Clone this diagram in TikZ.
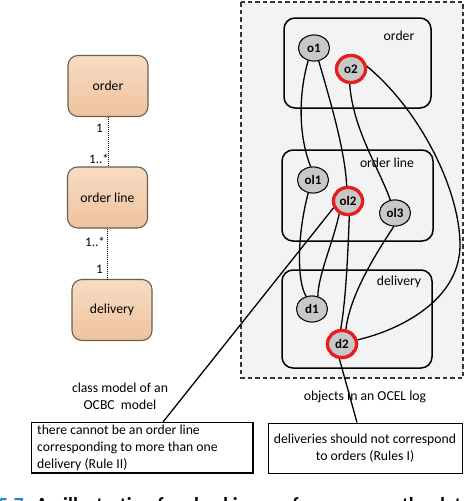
\documentclass[tikz,border=0pt]{standalone}
\usepackage{fontspec}
\setmainfont{Carlito}
\usetikzlibrary{calc,shapes.geometric}
\definecolor{peachtop}{HTML}{F8DCC3}
\definecolor{peachbot}{HTML}{EEC29E}
\definecolor{peachline}{HTML}{6E5E52}
\definecolor{objgray}{HTML}{C8C8C8}
\definecolor{bggray}{HTML}{F3F3F3}
\definecolor{ringred}{HTML}{E81E1E}
\definecolor{capblue}{HTML}{1E88C8}
\tikzset{
  classbox/.style={draw=peachline, line width=1.1pt, rounded corners=10pt, top color=peachtop, bottom color=peachbot, minimum width=80pt, minimum height=61pt, font=\fontsize{13.7}{16}\selectfont},
  regionbox/.style={draw=black, line width=1.5pt, rounded corners=11pt, fill=bggray},
  obj/.style={ellipse, draw=black, line width=0.9pt, fill=objgray, minimum width=31pt, minimum height=26pt, inner sep=0pt, font=\bfseries\fontsize{13}{15}\selectfont},
  redobj/.style={obj, draw=ringred, line width=3.2pt, minimum width=29pt, minimum height=27pt},
  link/.style={line width=1.3pt, draw=black},
  mult/.style={font=\fontsize{13}{15}\selectfont, inner sep=1pt},
  lbl/.style={font=\fontsize{13.7}{17}\selectfont, inner sep=0pt},
  notebox/.style={draw=black, line width=1pt, fill=white, font=\fontsize{13.7}{17}\selectfont}
}
\begin{document}
\begin{tikzpicture}[x=1pt,y=-1pt]
\clip (0,0) rectangle (474,501);
\useasboundingbox (0,0) rectangle (474,501);
\fill[white] (0,0) rectangle (474,501);

% class model
\node[classbox] (c1) at (108,86) {order};
\node[classbox] (c2) at (107.5,197.5) {order line};
\node[classbox] (c3) at (112,310) {delivery};
\draw[densely dotted, line width=1pt] (c1.south -| 108,0) coordinate (a1) -- (c2.north -| 108,0) coordinate (a2);
\draw[densely dotted, line width=1pt] (c2.south -| 107,0) coordinate (b1) -- (c3.north -| 107,0) coordinate (b2);
\node[mult, anchor=east] (m1) at (104,128) {1};
\node[mult, anchor=east] (m2) at (110,159) {1..*};
\node[mult, anchor=east] (m3) at (106,242) {1..*};
\node[mult, anchor=east] (m4) at (104,269) {1};
\node[lbl, align=center] (cm) at (120,396) {class model of an\\OCBC\ \ model};

% object log
\draw[dashed, line width=1.3pt, draw=black!80, dash pattern=on 4.5pt off 3pt, fill=bggray] (241,2) rectangle (463,378);
\node[regionbox, minimum width=147pt, minimum height=90pt] (r1) at (357.5,63) {};
\node[regionbox, minimum width=151pt, minimum height=91pt] (r2) at (357.5,195.5) {};
\node[regionbox, minimum width=150pt, minimum height=98pt] (r3) at (357,319) {};
\node[lbl] (t1) at (399,36) {order};
\node[lbl] (t2) at (387,163) {order line};
\node[lbl] (t3) at (399,282) {delivery};
\node[lbl] (t4) at (365,397) {objects in an OCEL log};

\node[obj] (o1) at (314,48) {o1};
\node[redobj] (o2) at (351,69) {o2};
\node[obj] (ol1) at (313,180) {ol1};
\node[redobj] (ol2) at (348,201) {ol2};
\node[obj] (ol3) at (395,213) {ol3};
\node[obj] (d1) at (312,309) {d1};
\node[redobj] (d2) at (342,344) {d2};

% notes
\node[notebox, minimum width=221pt, minimum height=50pt, anchor=north west, inner sep=0pt] (n1) at (31,422) {};
\node[font=\fontsize{13.7}{17}\selectfont, anchor=north west, align=left, inner sep=0pt] (n1t) at (37,425) {there cannot be an order line\\corresponding to more than one\\delivery (Rule II)};
\draw[line width=1pt] (n1.north west) rectangle (n1.south east);
\node[notebox, minimum width=194pt, minimum height=50pt, align=center] (n2) at (365,448) {deliveries should not correspond\\to orders (Rules I)};

% links
\draw[link] (o1.245) .. controls (297,100) and (300,140) .. (ol1.100);
\draw[link] (o1.290) .. controls (330,100) and (345,150) .. (ol2.95);
\draw[link] (o2.265) .. controls (353,130) and (380,170) .. (ol3.110);
\draw[link] (o2.10) .. controls (420,110) and (460,190) .. (460,245) coordinate (bend) .. controls (460,300) and (400,330) .. (d2.15);
\draw[link] (ol1.250) .. controls (298,230) and (296,280) .. (d1.115);
\draw[link] (ol2.235) .. controls (334,240) and (318,275) .. (d1.65);
\draw[link] (ol2.275) .. controls (348,250) and (346,300) .. (d2.95);
\draw[link] (ol3.265) .. controls (375,255) and (350,295) .. (d2.75);
\draw[link] (ol2.205) -- ($(n1.north west)+(132,0)$) coordinate (p1);
\draw[link] (d2.260) -- ($(n2.north)+(-8,0)$) coordinate (p2);

% redraw objects on top
\node[obj] at (o1) {o1};
\node[redobj] at (o2) {o2};
\node[obj] at (ol1) {ol1};
\node[redobj] at (ol2) {ol2};
\node[obj] at (ol3) {ol3};
\node[obj] at (d1) {d1};
\node[redobj] at (d2) {d2};

% caption (cropped as in the source figure)
\node[anchor=base west, inner sep=0pt, font=\bfseries\fontsize{20}{24}\selectfont] (cap) at (-2,511) {\textcolor{capblue}{5.7}\hspace{12pt}An illustration for checking conformance on the data};
\end{tikzpicture}
\end{document}
